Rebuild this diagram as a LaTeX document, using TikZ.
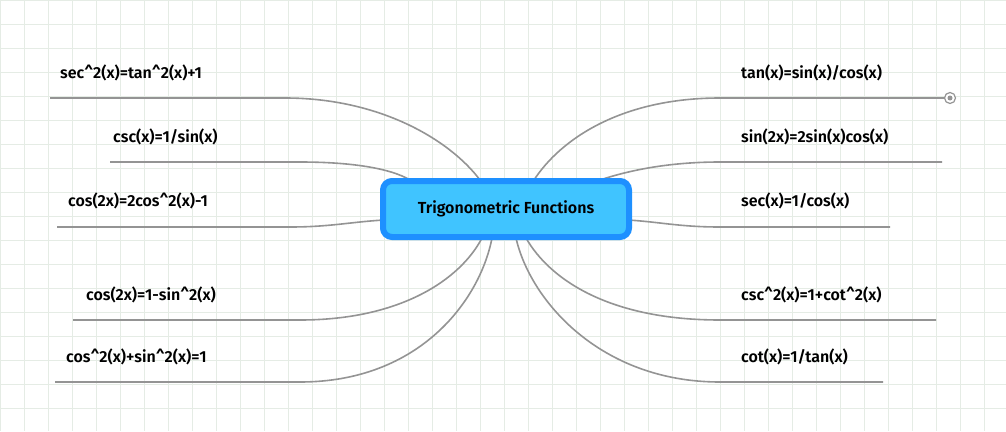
\documentclass[tikz,border=0pt]{standalone}
\usepackage{fontspec}
\setmainfont{Fira Sans}[BoldFont={Fira Sans SemiBold}]
\begin{document}
\begin{tikzpicture}[x=1pt,y=-1pt,
  br/.style={draw=black!42,line width=1.6pt},
  cbox/.style={draw={rgb,255:red,30;green,144;blue,255},fill={rgb,255:red,64;green,196;blue,255},line width=6pt,rounded corners=9pt,minimum width=246pt,minimum height=56pt,font=\bfseries\fontsize{16}{18}\selectfont},
  lbl/.style={anchor=base west,font=\bfseries\fontsize{16}{18}\selectfont,inner sep=0pt}]
\fill[white] (0,0) rectangle (1006,431);
\useasboundingbox (0,0) rectangle (1006,431);
\foreach \i in {0,...,42} \draw[green!25!black!10,line width=0.6pt] (\i*24,0) -- (\i*24,431);
\foreach \j in {0,...,18} \draw[green!25!black!10,line width=0.6pt] (0,\j*24) -- (1006,\j*24);
% left
\coordinate (l1) at (50,98); \coordinate (l1e) at (285,98);
\coordinate (l2) at (110,162); \coordinate (l2e) at (300,162);
\coordinate (l3) at (57,227); \coordinate (l3e) at (290,227);
\coordinate (l4) at (73,320); \coordinate (l4e) at (300,320);
\coordinate (l5) at (55,382); \coordinate (l5e) at (300,382);
\draw[br] (l1)--(l1e) .. controls (380,98) and (450,140) .. (480,180);
\draw[br] (l2)--(l2e) .. controls (350,162) and (390,168) .. (410,180);
\draw[br] (l3)--(l3e) .. controls (330,227) and (350,222) .. (384,220);
\draw[br] (l4)--(l4e) .. controls (400,320) and (460,280) .. (482,238);
\draw[br] (l5)--(l5e) .. controls (420,382) and (480,300) .. (492,238);
% right
\coordinate (r1) at (950,98); \coordinate (r1e) at (720,98);
\coordinate (r2) at (942,162); \coordinate (r2e) at (720,162);
\coordinate (r3) at (890,227); \coordinate (r3e) at (720,227);
\coordinate (r4) at (936,320); \coordinate (r4e) at (720,320);
\coordinate (r5) at (883,382); \coordinate (r5e) at (720,382);
\draw[br] (r1)--(r1e) .. controls (620,98) and (560,140) .. (534,180);
\draw[br] (r2)--(r2e) .. controls (670,162) and (630,170) .. (600,180);
\draw[br] (r3)--(r3e) .. controls (680,227) and (660,222) .. (628,220);
\draw[br] (r4)--(r4e) .. controls (610,320) and (550,280) .. (526,238);
\draw[br] (r5)--(r5e) .. controls (600,382) and (530,300) .. (516,238);
\node[draw=black!42,line width=1.2pt,fill=white,circle,minimum size=11pt,inner sep=0pt] (dot) at (950,98) {};
\fill[black!42] (dot) circle (2.5pt);
\node[cbox] (c) at (506,209) {Trigonometric Functions};
\node[lbl] (t1) at (60,78) {sec\^{}2(x)=tan\^{}2(x)+1};
\node[lbl] (t2) at (113,142) {csc(x)=1/sin(x)};
\node[lbl] (t3) at (68,206) {cos(2x)=2cos\^{}2(x)-1};
\node[lbl] (t4) at (86,300) {cos(2x)=1-sin\^{}2(x)};
\node[lbl] (t5) at (66,362) {cos\^{}2(x)+sin\^{}2(x)=1};
\node[lbl] (u1) at (741,78) {tan(x)=sin(x)/cos(x)};
\node[lbl] (u2) at (741,142) {sin(2x)=2sin(x)cos(x)};
\node[lbl] (u3) at (741,206) {sec(x)=1/cos(x)};
\node[lbl] (u4) at (741,300) {csc\^{}2(x)=1+cot\^{}2(x)};
\node[lbl] (u5) at (741,362) {cot(x)=1/tan(x)};
\end{tikzpicture}
\end{document}
